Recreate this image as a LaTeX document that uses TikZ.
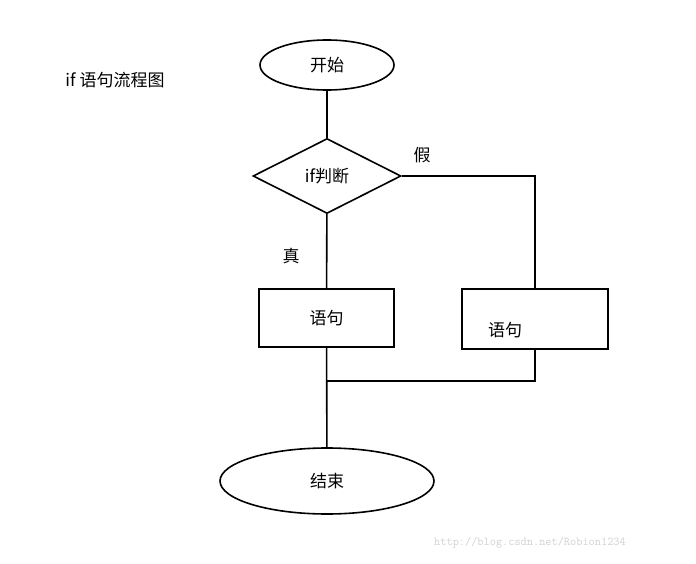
\documentclass[tikz,border=0pt]{standalone}
\usepackage{fontspec}
\setmainfont{Noto Sans CJK SC}
\usetikzlibrary{shapes.geometric}
\begin{document}
\begin{tikzpicture}[
    x=1pt,y=-1pt,
    line width=1.6pt,
    terminal/.style={
        ellipse,
        draw,
        inner sep=0pt,
        font=\fontsize{17}{17}\selectfont
    },
    stmtbox/.style={
        rectangle,
        draw,
        inner sep=0pt,
        font=\fontsize{17}{17}\selectfont
    },
    branch/.style={
        font=\fontsize{17}{17}\selectfont
    }
    ]
    \useasboundingbox (0,0) rectangle (696,564);
    \fill[white] (0,0) rectangle (696,564);
    \node[branch] (TITLE) at (115,80) {if 语句流程图};
    \node[terminal,minimum width=134pt,minimum height=50pt] (START) at (327,65) {开始};
    \node[diamond,draw,aspect=2,minimum width=148pt,minimum height=75pt,inner sep=0pt,font=\fontsize{17}{17}\selectfont] (TEST) at (327,176) {if判断};
    \node[stmtbox,minimum width=135pt,minimum height=58pt] (THEN) at (326.5,318) {语句};
    \node[stmtbox,minimum width=146pt,minimum height=60pt] (ELSE) at (535,319) {};
    \node[branch] (ELSETXT) at (505,330) {语句};
    \node[terminal,minimum width=214pt,minimum height=66pt] (END) at (327,481) {结束};
    \node[branch] (FALSE) at (422,155) {假};
    \node[branch] (TRUE) at (291,256) {真};
    \node[font=\fontsize{12}{12}\ttfamily,text=gray!35] (MARK) at (530,543) {http://blog.csdn.net/Robion1234};
    \coordinate (JOIN) at (327,381);

    \draw (START) -- (TEST);
    \draw (TEST) -- (THEN);
    \draw (TEST.east) -| (ELSE.north);
    \draw (THEN) -- (END);
    \draw (ELSE.south) |- (JOIN);
\end{tikzpicture}
\end{document}
